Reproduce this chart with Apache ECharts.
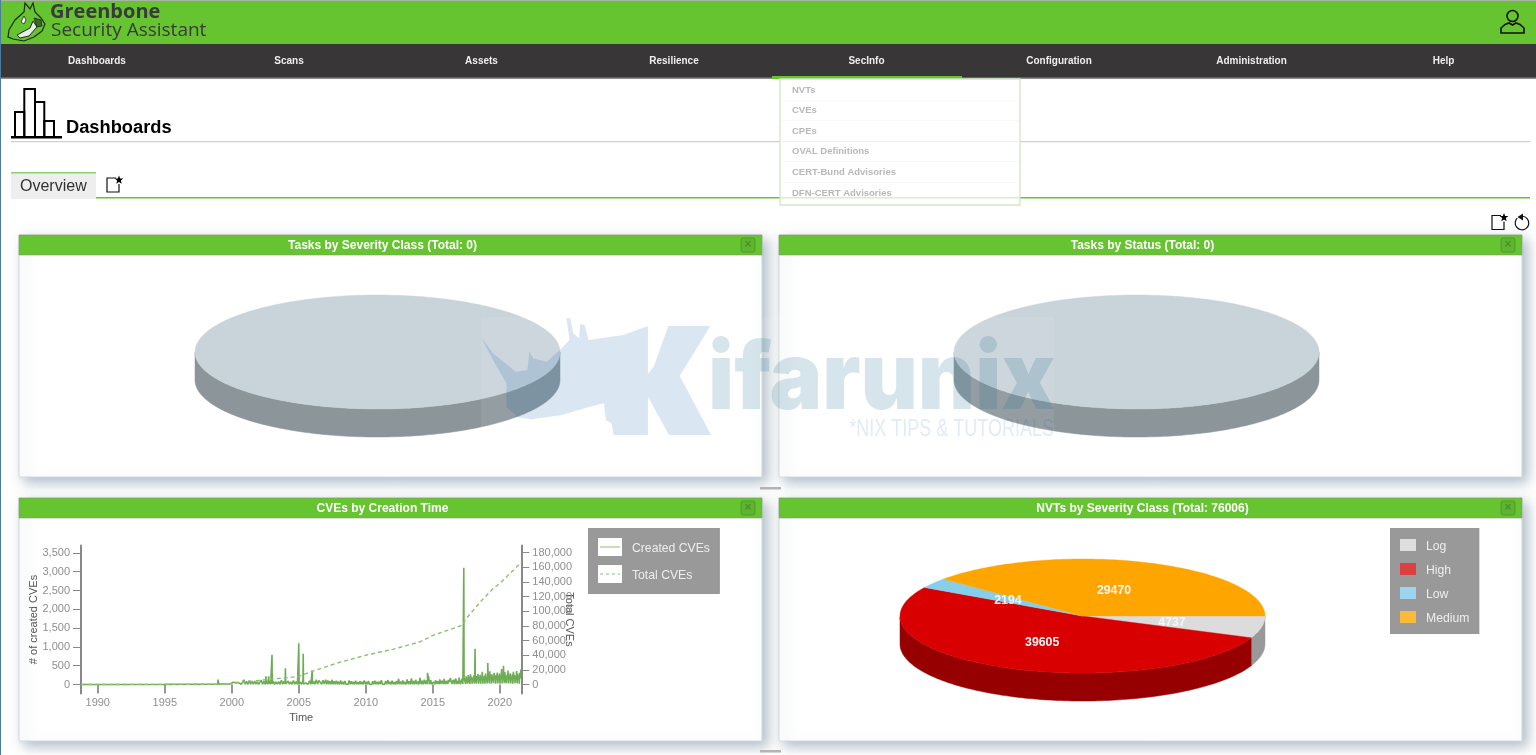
<!DOCTYPE html>
<html><head><meta charset="utf-8"><title>Greenbone Security Assistant</title>
<style>html,body{margin:0;padding:0;background:#fff;overflow:hidden}#c{width:1536px;height:755px}</style>
<script src="https://cdn.jsdelivr.net/npm/echarts@6/dist/echarts.min.js"></script></head>
<body><div id="c"></div><script>
// ---------- data ----------
const navItems = ['Dashboards','Scans','Assets','Resilience','SecInfo','Configuration','Administration','Help'];
const secInfoItems = ['NVTs','CVEs','CPEs','OVAL Definitions','CERT-Bund Advisories','DFN-CERT Advisories'];
const xTicks = [1990,1995,2000,2005,2010,2015,2020];
const leftTicks = [0,500,1000,1500,2000,2500,3000,3500];
const rightTicks = [0,20000,40000,60000,80000,100000,120000,140000,160000,180000];
const createdEarly = [[1988.75,0],[1992,2],[1995,3],[1996.9,8],[1997,30],[1997.1,5],[1998,6],[1998.95,10],[1999.02,10],[1999.4,12],[1999.9,15]];
const created2000 = [5,60,8,55,4,50,70,6,60,125,8,85,5,105,10,85,6,95,12,75,5,45,115,8,85,4,90,10,105,6,55,90,5,70,8,75,6,110,10,85,5,60,90,8,70,6,105,10,75,4,35,70,6,90,10,40,75,5,100,8,50,85,6,125,10,105,140,8,110,12];
const created2007 = [130,5,105,10,90,4,125,8,85,5,100,10,75,4,110,8,70,5,90,10,60,4,105,6,85,8,72,4,100,10,65,5,88,8,75,4,110,10,68,6,92,8,58,4,85,6,100,10,70,5,78,8,112,10,62,4,90,8,118,10,72,5,98,8,65,4,88,6,150,10,76,5,105,8,68,4,135,10,85,6,165,8,92,5,125,10,78,4,175,8,98,5,130,10,105,6,145,8,112,5];
const created2015 = [8,70,40,55,6,110,60,75,15,90,45,60,12,135,70,80,14,105,55,85,16,150,65,70,11,100,50,80,18,125,60,95,13,170,75,85,15,110,55,130,7,75,50,160,12,100,60,85,20,185,80,110,10,95,55,155,13];
const created2017 = [20,190,110,150,15,215,120,165,25,250,130,180,16,270,140,200,20,165,105,235,24,310,150,180,26,225,120,280,20,175,110,260,22,215,125,340,24,195,120,230,20,290,145,200,26,250,130,220,30,350,160,215,25,270,135,195,34,310,150,235,20,260,140,320,26,205,130,290,24,245,140,410,28,225,125,280,38,330,160,205,32,255,135,370,30,235,150,300,26,215,130,270,22,340,155,250,36,225,130,360,26,290,150,245,24,310,160,400];
const createdSpikes = [[1998.98,130],[2002.53,15],[2002.55,220],[2002.57,15],[2002.73,15],[2002.75,220],[2002.77,15],[2002.98,15],[2003,790],[2003.02,15],[2003.98,15],[2004,435],[2004.02,15],[2004.98,15],[2005,1100],[2005.02,15],[2005.31,15],[2005.33,820],[2005.35,15],[2005.98,15],[2006,375],[2006.02,15],[2014.6,310],[2014.68,220],[2017.31,3105],[2018.15,950],[2019.1,570],[2020.27,500]];
const totalCVEs = [[1988.75,0],[1999,300],[2000,1500],[2002,5500],[2003,7500],[2004,9000],[2005,11000],[2006,18000],[2007,24000],[2008,30000],[2010,40000],[2012,48000],[2014,58000],[2015,67000],[2017.2,81000],[2017.45,89000],[2018.5,112000],[2019.5,131000],[2020,138000],[2021.6,167000]];
const sevNames = ['Log','High','Low','Medium'];
const sevValues = [4737,39605,2194,29470];
const sevTop = ['#dcdcdc','#d80000','#87ceeb','#ffa500'];
const sevSide = ['#999999','#970000','#5e90a4','#b27300'];
const sevSwatch = ['#dedede','#dc4040','#9dd5ee','#fdb93a'];
const emptyValues = [1];

// ---------- created series, hand read pieces placed on the time axis ----------
function place(list, start, step){ return list.map((v,i)=>[+(start+i*step).toFixed(3),v]); }
const createdCVEs = createdEarly.concat(place(created2000,2000,0.1),place(created2007,2007,0.08),place(created2015,2015,0.04),place(created2017,2017.29,0.04),createdSpikes).sort((a,b)=>a[0]-b[0]);

// ---------- page furniture ----------
const SANS='"Liberation Sans"';
const g=[];
function R(x,y,w,h,fill,extra){g.push({type:'rect',silent:true,z:(extra&&extra.zz)||0,z2:(extra&&extra.z2)||g.length,shape:{x,y,width:w,height:h},style:Object.assign({fill},extra&&extra.style)});}
function T(text,x,y,font,fill,align,extra){g.push(Object.assign({type:'text',silent:true,z:0,z2:g.length,x,y,style:{text,font,fill,align:align||'left',verticalAlign:'middle',textAlign:align||'left',textVerticalAlign:'middle'}},extra||{}));}
function P(points,style,zz,kind){g.push({type:kind||'polygon',silent:true,z:zz||0,z2:g.length,shape:{points},style});}
function star(cx,cy,r){const p=[];for(let i=0;i<10;i++){const a=-Math.PI/2+i*Math.PI/5,q=i%2?r*0.42:r;p.push([cx+q*Math.cos(a),cy+q*Math.sin(a)]);}P(p,{fill:'#000'});}
function newIcon(x,y){P([[x+9,y+2],[x,y+2],[x,y+16],[x+12,y+16],[x+12,y+8]],{stroke:'#111',lineWidth:1.2,fill:null},0,'polyline');star(x+12,y+4,4.6);}

R(0,0,1536,755,'#ffffff');
R(0,0,1536,44,'#66c430');R(0,0,1536,1,'#a9b3a4');
R(0,44,1536,34,'#393637');R(0,77.5,1536,1.5,'#8d8d8d');R(0,0,1,755,'#4c7ca3');
// logo
P([[8,37],[9,30],[15,20],[24,12],[25,3],[30,9],[33,3],[35,12],[41,18],[45,24],[42,31],[34,37],[24,41],[13,39]],{fill:'#66c430',stroke:'#1f2a1a',lineWidth:1.2});
P([[21,22],[24,16],[26,20],[24,24]],{fill:'#fff',stroke:'#222',lineWidth:.8});
P([[17,35],[30,28],[33,21],[37,27],[29,36],[20,38]],{fill:'#e8efe4',stroke:'#222',lineWidth:1});
P([[34,18],[41,20],[42,26],[37,27]],{fill:'#3c6a25',stroke:'#222',lineWidth:.8});
T('Greenbone',50,12,'bold 20px "Open Sans"','#3a3a3a');
T('Security Assistant',51,31,'19px "Open Sans"','#3a3a3a');
// user icon
g.push({type:'circle',silent:true,z:0,z2:g.length,shape:{cx:1512.5,cy:16,r:5.5},style:{fill:null,stroke:'#111',lineWidth:1.6}});
P([[1501,33],[1501,28],[1505,24.5],[1509,23],[1512.5,25],[1516,23],[1520,24.5],[1524,28],[1524,33]],{fill:null,stroke:'#111',lineWidth:1.6});
// nav
const navX=[97,289,481.5,674,866.5,1059,1251.5,1443.5];
navItems.forEach((n,i)=>T(n,navX[i],61,'bold 10px '+SANS,'#eeeeee','center'));
R(772,76,190,3,'#66c430');
// title
[[15,112,9.3,25],[24.3,89,10.7,48],[35,102,9.3,35],[44.3,121,9.7,16]].forEach(b=>R(b[0],b[1],b[2],b[3],null,{style:{stroke:'#000',lineWidth:2}}));
R(11,136,51,2.5,'#000');
T('Dashboards',66,128,'bold 18.3px '+SANS,'#000');
R(11,141,1519,1.2,'#c6d1d8');
// tab
R(11,173,85,25,'#eeeeee');R(11,172,85,1.5,'#8fd070');
T('Overview',20,186.5,'16px '+SANS,'#333');
R(96,197,1434,1.5,'#66c430');R(11,198,85,.5,'#ddd');
newIcon(107,176);
newIcon(1492,213.5);
g.push({type:'arc',silent:true,z:0,z2:g.length,shape:{cx:1522,cy:223,r:6.8,startAngle:-1.45,endAngle:-2.35,clockwise:true},style:{fill:null,stroke:'#111',lineWidth:1.2}});
P([[1523,213.5],[1523,220.5],[1517.5,217]],{fill:'#111'});
// panels
const panels=[[19,235,743,242,'Tasks by Severity Class (Total: 0)'],[779,235,743,242,'Tasks by Status (Total: 0)'],[19,498,743,243,'CVEs by Creation Time'],[779,498,743,243,'NVTs by Severity Class (Total: 76006)']];
panels.forEach(p=>{
  R(p[0],p[1],p[2],p[3],'#fff',{style:{stroke:'#d4d9dc',lineWidth:1,shadowBlur:12,shadowOffsetX:5,shadowOffsetY:5,shadowColor:'rgba(110,135,155,.55)'}});
});
panels.forEach(p=>{
  R(p[0],p[1],p[2],20,'#66c430',{style:{stroke:'#859a78',lineWidth:.6}});
  T(p[4],p[0]+p[2]/2-8,p[1]+11,'bold 12px '+SANS,'#fff','center');
  const bx=p[0]+p[2]-21;
  g.push({type:'rect',silent:true,z:0,z2:g.length,shape:{x:bx,y:p[1]+3,width:14,height:14,r:2},style:{fill:'#5fb52e',stroke:'#4f9a2a',lineWidth:1}});
  T('×',bx+7,p[1]+10,'bold 12px '+SANS,'#4a8f32','center');
});
R(760,487,21,2.5,'#b3b3b3');R(760,750,21,2.5,'#b3b3b3');

// dropdown, faded, above the page lines
const DZ=1;
R(780,79,240,126,'rgba(255,255,255,.72)',{zz:DZ,style:{stroke:'#d2e6c6',lineWidth:1.3}});
const ddY=[90.5,110.5,131.5,151.5,172.5,193.5];
secInfoItems.forEach((n,i)=>{T(n,792,ddY[i],'bold 9.5px '+SANS,'#b8b8b8','left',{z:DZ});if(i<5)R(781,ddY[i]+10,238,.6,'#f0f4ec',{zz:DZ});});

// legend overlay lines inside white swatches
P([[600,547],[620,547]],{stroke:'#8cc170',lineWidth:1},8,'polyline');
P([[600,574],[620,574]],{stroke:'#8cc170',lineWidth:1.2,lineDash:[3,3]},8,'polyline');

// watermark, above the top row of pies
const wmShape=[[28,110],[60,180],[95,250],[95,320],[125,352],[160,358],[240,345],[320,318],[350,310],[355,360],[370,370],[375,405],[465,405],[465,290],[520,405],[630,405],[548,228],[628,78],[518,78],[480,200],[465,222],[465,78],[400,105],[310,120],[300,75],[288,72],[285,115],[270,100],[262,55],[252,55],[260,120],[235,150],[200,185],[165,175],[155,155],[150,210],[120,215],[60,160]];
R(481,317,573,123,'rgba(255,255,255,.08)',{zz:9});
P(wmShape.map(q=>[470+q[0]/2.613,300+q[1]/3]),{fill:'rgba(0,90,170,.145)'},9);
T('ifarunix',708,381,'900 94px Inter','rgba(25,110,145,.18)','left',{z:9,scaleX:.94});
T('*NIX TIPS & TUTORIALS',1054,429,'24px "Liberation Sans Narrow","Liberation Sans"','rgba(0,90,170,.12)','right',{z:9,scaleX:.75});

// ---------- pies ----------
function pieSeries(name,values,index,tops,sides,cx,cy,rx,ry,depth,labels){
  const total=values.reduce((a,b)=>a+b,0);
  const before=values.slice(0,index).reduce((a,b)=>a+b,0);
  return {type:'custom',name,coordinateSystem:'none',z:5,silent:true,clip:false,data:[[values[index]]],
    renderItem(params,api){
      const a0=before/total*Math.PI*2,a1=a0+api.value(0)/total*Math.PI*2;
      const n=Math.max(2,Math.ceil((a1-a0)/0.02)),arc=[];
      for(let i=0;i<=n;i++){const t=a0+(a1-a0)*i/n;arc.push([cx+rx*Math.cos(t),cy+ry*Math.sin(t),t]);}
      const top=[[cx,cy]].concat(arc.map(q=>[q[0],q[1]]));
      const vis=arc.filter(q=>q[2]<=Math.PI+0.001);
      const kids=[];
      if(vis.length>1){const wall=vis.map(q=>[q[0],q[1]]).concat(vis.slice().reverse().map(q=>[q[0],q[1]+depth]));
        kids.push({type:'polygon',z2:1,shape:{points:wall},style:{fill:sides[index],stroke:sides[index],lineWidth:.5}});}
      kids.push({type:'polygon',z2:2+index,shape:{points:top},style:{fill:tops[index],stroke:tops[index],lineWidth:.4}});
      if(labels){const m=(a0+a1)/2;kids.push({type:'text',z2:20,style:{text:String(api.value(0)),x:cx+rx*.5*Math.cos(m),y:cy+1+ry*.5*Math.sin(m),fill:'#f6f6f6',font:'bold 12.3px '+SANS,align:'center',verticalAlign:'middle',textAlign:'center',textVerticalAlign:'middle'}});}
      return {type:'group',children:kids};
    }};
}

const series=[
 {type:'line',name:'Created CVEs',xAxisIndex:0,yAxisIndex:0,z:5,data:createdCVEs,showSymbol:false,silent:true,lineStyle:{color:'#66a84d',width:1.6,opacity:.95},itemStyle:{color:'#66a84d'}},
 {type:'line',name:'Total CVEs',xAxisIndex:0,yAxisIndex:1,z:6,data:totalCVEs,showSymbol:false,silent:true,lineStyle:{color:'#8cc170',width:1.4,type:[4,3]},itemStyle:{color:'#8cc170'}},
 pieSeries('N/A severity',emptyValues,0,['#c8d3da'],['#8b959a'],377.5,352,182.5,57,28,false),
 pieSeries('N/A status',emptyValues,0,['#c8d3da'],['#8b959a'],1136.5,352,182.5,57,28,false)
];
sevNames.forEach((n,i)=>series.push(pieSeries(n,sevValues,i,sevTop,sevSide,1082.5,616,182.5,57,28,true)));

const axisText={color:'#8f8f8f',fontFamily:'Liberation Sans',fontSize:11};
const nameText={color:'#555',fontFamily:'Liberation Sans',fontSize:11};
const legendText={color:'#eee',fontFamily:'Liberation Sans',fontSize:12.2,padding:[0,0,0,5],rich:{t:{color:'#eee',fontFamily:'Liberation Sans',fontSize:12.2,padding:[3,0,0,0]}}};
const option={
 animation:false,backgroundColor:'#fff',
 graphic:{elements:g},
 grid:{left:81,top:545.5,width:440.3,height:148,containLabel:false},
 xAxis:{type:'value',min:1988.75,max:2021.6,z:5,name:'Time',nameLocation:'middle',nameGap:19,nameMoveOverlap:false,nameTextStyle:nameText,
  axisLine:{show:false,onZero:false},splitLine:{show:false},
  axisTick:{show:true,inside:true,length:9,customValues:xTicks,lineStyle:{color:'#777',width:1.5}},
  axisLabel:Object.assign({margin:4,customValues:xTicks,formatter:v=>String(v)},axisText)},
 yAxis:[
  {type:'value',min:-239,max:3697,position:'left',z:5,name:'# of created CVEs',nameLocation:'middle',nameGap:42,nameMoveOverlap:false,nameRotate:90,nameTextStyle:nameText,
   splitLine:{show:false},axisLine:{show:true,lineStyle:{color:'#888',width:2}},
   axisTick:{show:true,length:8,customValues:leftTicks,lineStyle:{color:'#888',width:1}},
   axisLabel:Object.assign({margin:11,customValues:leftTicks},axisText)},
  {type:'value',min:-12290,max:189830,position:'right',z:5,name:'Total CVEs',nameLocation:'middle',nameGap:42,nameMoveOverlap:false,nameRotate:-90,nameTextStyle:nameText,
   splitLine:{show:false},axisLine:{show:true,lineStyle:{color:'#888',width:2}},
   axisTick:{show:true,length:8,customValues:rightTicks,lineStyle:{color:'#888',width:1}},
   axisLabel:Object.assign({margin:11,customValues:rightTicks},axisText)}
 ],
 legend:[
  {orient:'vertical',left:588,top:528,z:6,selectedMode:false,backgroundColor:'#999',borderRadius:0,padding:[10,10,11,10],itemGap:9,itemWidth:24,itemHeight:18,
   textStyle:legendText,formatter:'{t|{name}}',
   data:[{name:'Created CVEs',icon:'rect',itemStyle:{color:'#fff',opacity:1}},{name:'Total CVEs',icon:'rect',itemStyle:{color:'#fff',opacity:1}}]},
  {orient:'vertical',left:1390,top:528,z:6,selectedMode:false,backgroundColor:'#999',borderRadius:0,padding:[11,10,9.5,10],itemGap:10.5,itemWidth:16,itemHeight:12,
   textStyle:legendText,formatter:'{t|{name}}',
   data:sevNames.map((n,i)=>({name:n,icon:'rect',itemStyle:{color:sevSwatch[i]}}))}
 ],
 series
};
echarts.init(document.getElementById('c')).setOption(option);
</script></body></html>
